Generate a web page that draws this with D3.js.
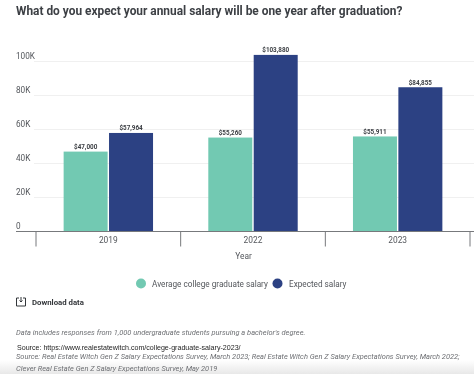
<!DOCTYPE html>
<html>
<head>
<meta charset="utf-8">
<script src="https://cdn.jsdelivr.net/npm/d3@7"></script>
<style>
  html, body { margin: 0; padding: 0; background: #fff; overflow: hidden; }
  svg { display: block; filter: blur(0.3px); }
  text { font-family: Roboto, sans-serif; }
</style>
</head>
<body>
<div id="chart"></div>
<script>
const years = ["2019", "2022", "2023"];
const seriesNames = ["Average college graduate salary", "Expected salary"];
const averageSalary = [47000, 55260, 55911];
const expectedSalary = [57964, 103880, 84855];
const yTicks = [0, 20000, 40000, 60000, 80000, 100000];
const colors = ["#72c9b2", "#2c4183"];

const width = 474, height = 374;
const svg = d3.select("#chart").append("svg")
  .attr("width", width)
  .attr("height", height);

const background = svg.append("defs").append("linearGradient")
  .attr("id", "fade")
  .attr("x1", 0).attr("x2", 0).attr("y1", 0).attr("y2", 1);
background.append("stop").attr("offset", 0).attr("stop-color", "#fff");
background.append("stop").attr("offset", 1).attr("stop-color", "#e8e8e8");
svg.append("rect")
  .attr("x", 0).attr("y", 360)
  .attr("width", width).attr("height", 14)
  .attr("fill", "url(#fade)");

svg.append("text")
  .attr("x", 16).attr("y", 15)
  .attr("font-size", 11.9)
  .attr("font-weight", 700)
  .attr("fill", "#3d4045")
  .text("What do you expect your annual salary will be one year after graduation?");

const x = d3.scaleBand()
  .domain(years)
  .range([36, 470]);

const y = d3.scaleLinear()
  .domain([0, 100000])
  .range([231.5, 61.5]);

// Gridlines and y labels
const grid = svg.append("g");
grid.selectAll("line")
  .data(yTicks.filter(d => d > 0))
  .enter().append("line")
  .attr("x1", 34)
  .attr("x2", width)
  .attr("y1", d => y(d))
  .attr("y2", d => y(d))
  .attr("stroke", "#f0f0f0");

grid.selectAll("text")
  .data(yTicks)
  .enter().append("text")
  .attr("x", 16)
  .attr("y", d => y(d) - 2.5)
  .attr("font-size", 8.2)
  .attr("fill", "#54575c")
  .text(d => d === 0 ? "0" : (d / 1000) + "K");

// Bars
const barWidth = 44;
const gap = 1.4;
const groups = [averageSalary, expectedSalary];

groups.forEach((values, i) => {
  const barX = d => x(d) + x.bandwidth() / 2 + (i === 0 ? -barWidth - gap / 2 : gap / 2);

  svg.append("g").selectAll("rect")
    .data(years)
    .enter().append("rect")
    .attr("x", barX)
    .attr("y", (d, j) => y(values[j]))
    .attr("width", barWidth)
    .attr("height", (d, j) => y(0) - y(values[j]))
    .attr("fill", colors[i]);

  svg.append("g").selectAll("text")
    .data(years)
    .enter().append("text")
    .attr("x", d => barX(d) + barWidth / 2)
    .attr("y", (d, j) => y(values[j]) - 2.6)
    .attr("text-anchor", "middle")
    .attr("font-size", 6.3)
    .attr("font-weight", 700)
    .attr("fill", "#3d4045")
    .text((d, j) => "$" + d3.format(",")(values[j]));
});

// X axis
const axis = svg.append("g");
axis.append("line")
  .attr("x1", 16).attr("x2", width)
  .attr("y1", y(0)).attr("y2", y(0))
  .attr("stroke", "#77797c")
  .attr("stroke-width", 1.2);

axis.selectAll(".tick")
  .data(years.concat("end"))
  .enter().append("line")
  .attr("class", "tick")
  .attr("x1", d => d === "end" ? x.range()[1] : x(d))
  .attr("x2", d => d === "end" ? x.range()[1] : x(d))
  .attr("y1", y(0))
  .attr("y2", y(0) + 15)
  .attr("stroke", "#77797c");

axis.selectAll(".year")
  .data(years)
  .enter().append("text")
  .attr("class", "year")
  .attr("x", d => x(d) + x.bandwidth() / 2)
  .attr("y", 242.5)
  .attr("text-anchor", "middle")
  .attr("font-size", 8.4)
  .attr("fill", "#54575c")
  .text(d => d);

svg.append("text")
  .attr("x", 243.5).attr("y", 258.5)
  .attr("text-anchor", "middle")
  .attr("font-size", 8.4)
  .attr("fill", "#54575c")
  .text("Year");

// Legend
const legendCx = [141, 277.5];
const legendTextX = [152, 289];
seriesNames.forEach((name, i) => {
  svg.append("circle")
    .attr("cx", legendCx[i]).attr("cy", 283.5)
    .attr("r", 5)
    .attr("fill", colors[i]);
  svg.append("text")
    .attr("x", legendTextX[i]).attr("y", 287)
    .attr("font-size", 8.2)
    .attr("fill", "#54575c")
    .text(name);
});

// Download link
const icon = svg.append("g")
  .attr("fill", "none")
  .attr("stroke", "#33363a")
  .attr("stroke-width", 1);
icon.append("path").attr("d", d3.line()([[19, 298], [16.5, 298], [16.5, 306], [25.5, 306], [25.5, 298], [23, 298]]));
icon.append("path").attr("d", d3.line()([[21, 297], [21, 302]]));
icon.append("path").attr("d", d3.line()([[19.5, 300.5], [21, 302], [22.5, 300.5]]));

svg.append("text")
  .attr("x", 32).attr("y", 304.5)
  .attr("font-size", 7.8)
  .attr("font-weight", 700)
  .attr("fill", "#33363a")
  .text("Download data");

// Notes
svg.append("text")
  .attr("x", 16).attr("y", 335)
  .attr("font-size", 7.45)
  .attr("font-style", "italic")
  .attr("fill", "#6d6f73")
  .text("Data includes responses from 1,000 undergraduate students pursuing a bachelor's degree.");

svg.append("text")
  .attr("x", 17).attr("y", 349.5)
  .style("font-family", "'Liberation Sans', sans-serif")
  .attr("font-size", 7.1)
  .attr("fill", "#1c1c1c")
  .text("Source: https://www.realestatewitch.com/college-graduate-salary-2023/");

svg.append("text")
  .attr("x", 16).attr("y", 359)
  .attr("font-size", 7.45)
  .attr("font-style", "italic")
  .attr("fill", "#6d6f73")
  .text("Source: Real Estate Witch Gen Z Salary Expectations Survey, March 2023; Real Estate Witch Gen Z Salary Expectations Survey, March 2022;");

svg.append("text")
  .attr("x", 16).attr("y", 371)
  .attr("font-size", 7.45)
  .attr("font-style", "italic")
  .attr("fill", "#6d6f73")
  .text("Clever Real Estate Gen Z Salary Expectations Survey, May 2019");
</script>
</body>
</html>
